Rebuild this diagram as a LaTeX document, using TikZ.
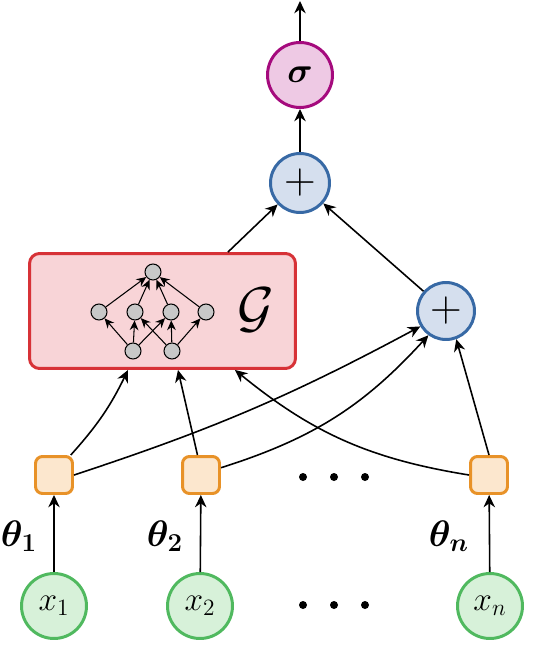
\RequirePackage{fix-cm}
\documentclass[tikz,border=0pt]{standalone}
\usepackage{amsmath}
\usetikzlibrary{arrows.meta}

\definecolor{sigmaline}{RGB}{165,10,125}
\definecolor{sigmafill}{RGB}{238,201,228}
\definecolor{plusline}{RGB}{55,105,165}
\definecolor{plusfill}{RGB}{213,223,238}
\definecolor{gline}{RGB}{215,50,55}
\definecolor{gfill}{RGB}{248,212,215}
\definecolor{parline}{RGB}{232,146,40}
\definecolor{parfill}{RGB}{252,231,206}
\definecolor{inline}{RGB}{80,185,95}
\definecolor{infill}{RGB}{215,241,217}
\definecolor{nodegray}{RGB}{200,200,200}

\begin{document}
\begin{tikzpicture}[x=0.02cm, y=-0.02cm,
		>={Stealth[length=7pt,width=6.5pt]},
		every node/.style={font=\fontsize{19}{23}\selectfont},
		link/.style={->, line width=0.9pt},
		tinylink/.style={-{Stealth[length=5.5pt,width=5pt]}, line width=0.6pt},
		sigmanode/.style={circle, draw=sigmaline, fill=sigmafill, line width=1.7pt, minimum size=1.3cm, inner sep=0pt, font=\fontsize{20}{24}\selectfont},
		plusnode/.style={circle, draw=plusline, fill=plusfill, line width=1.7pt, inner sep=0pt, font=\fontsize{25}{30}\selectfont},
		gbox/.style={draw=gline, fill=gfill, line width=1.7pt, rounded corners=0.2cm, minimum width=5.32cm, minimum height=2.3cm},
		gnode/.style={circle, draw, fill=nodegray, line width=0.6pt, minimum size=0.32cm, inner sep=0pt},
		param/.style={draw=parline, fill=parfill, line width=1.7pt, rounded corners=0.14cm, minimum size=0.74cm, inner sep=0pt},
		input/.style={circle, draw=inline, fill=infill, line width=1.7pt, minimum size=1.3cm, inner sep=0pt},
		weight/.style={font=\fontsize{21}{25}\selectfont}]
		\useasboundingbox (0,0) rectangle (536,645);
		% output side
		\node (sg) at (300,75) [sigmanode] {$\boldsymbol{\sigma}$};
		\coordinate (out) at (300,1);
		\node (p1) at (300,183) [plusnode, minimum size=1.18cm] {$+$};
		\node (p2) at (446,311) [plusnode, minimum size=1.14cm] {$+$};
		% graph block
		\node (G) at (162.5,311) [gbox] {};
		\node (glabel) at (256,310) [font=\fontsize{32}{36}\selectfont] {$\mathcal{G}$};
		\node (t) at (153,272) [gnode] {};
		\node (m1) at (99,312) [gnode] {};
		\node (m2) at (135,312) [gnode] {};
		\node (m3) at (171,312) [gnode] {};
		\node (m4) at (206,312) [gnode] {};
		\node (b1) at (133,351) [gnode] {};
		\node (b2) at (172,351) [gnode] {};
		\draw[tinylink] (m1) -- (t);
		\draw[tinylink] (m2) -- (t);
		\draw[tinylink] (m3) -- (t);
		\draw[tinylink] (m4) -- (t);
		\draw[tinylink] (b1) -- (m1);
		\draw[tinylink] (b1) -- (m2);
		\draw[tinylink] (b1) -- (m3);
		\draw[tinylink] (b2) -- (m2);
		\draw[tinylink] (b2) -- (m3);
		\draw[tinylink] (b2) -- (m4);
		% parameters and inputs
		\node (s1) at (54,475) [param] {};
		\node (s2) at (201,475) [param] {};
		\node (sn) at (489,475) [param] {};
		\node (x1) at (54,606) [input] {$x_1$};
		\node (x2) at (200,606) [input] {$x_2$};
		\node (xn) at (490,606) [input] {$x_n$};
		\node (th1) at (19,536) [weight] {$\boldsymbol{\theta_1}$};
		\node (th2) at (165,536) [weight] {$\boldsymbol{\theta_2}$};
		\node (thn) at (449,536) [weight] {$\boldsymbol{\theta_n}$};
		\fill (303,477) circle (4);
		\fill (334,477) circle (4);
		\fill (365,477) circle (4);
		\fill (303,605) circle (4);
		\fill (334,605) circle (4);
		\fill (365,605) circle (4);
		% connectors
		\draw[link] (x1) -- (s1);
		\draw[link] (x2) -- (s2);
		\draw[link] (xn) -- (sn);
		\draw[link] (s1.50) to[bend right=8] ([xshift=-0.69cm]G.south);
		\draw[link] (s2.100) -- ([xshift=0.31cm]G.south);
		\draw[link] (sn.west) to[bend left=15] ([xshift=1.45cm]G.south);
		\draw[link] (s1.east) to[bend right=5] (p2.211);
		\draw[link] (s2.20) to[bend right=15] (p2.234);
		\draw[link] (sn.north) -- (p2.290);
		\draw[link] ([xshift=1.31cm]G.north) -- (p1);
		\draw[link] (p2) -- (p1);
		\draw[link] (p1) -- (sg);
		\draw[link] (sg) -- (out);
	\end{tikzpicture}
\end{document}
